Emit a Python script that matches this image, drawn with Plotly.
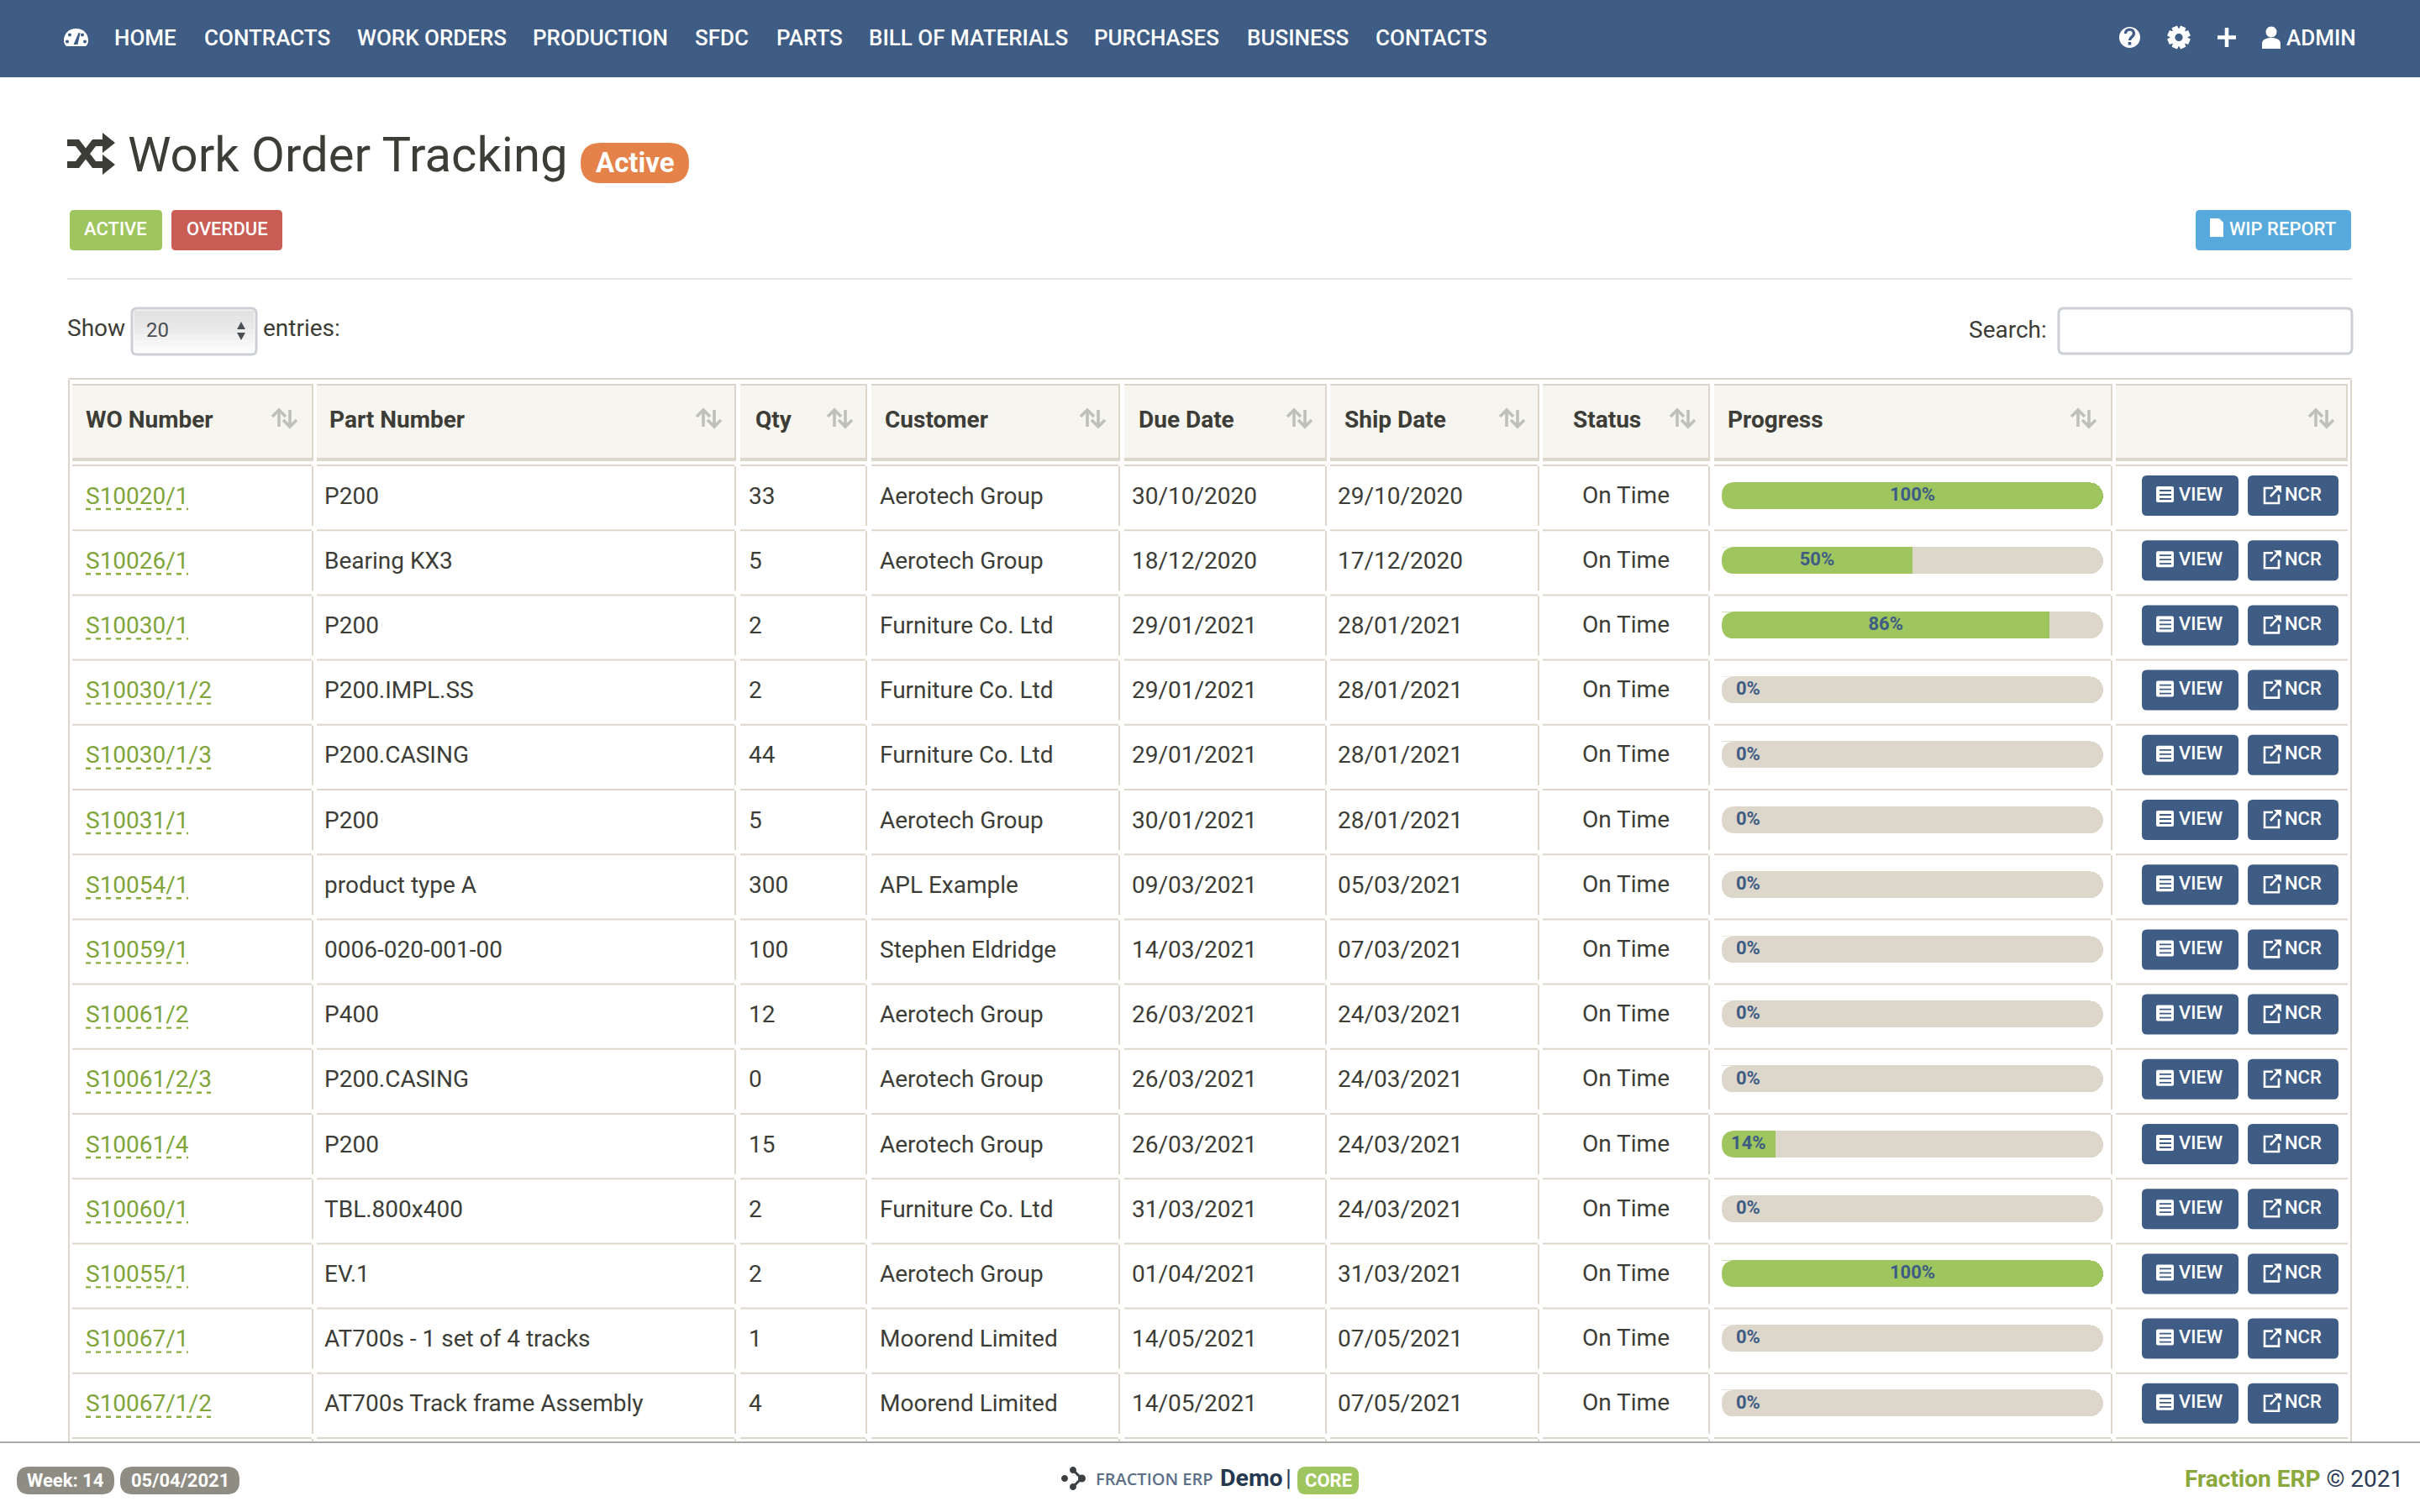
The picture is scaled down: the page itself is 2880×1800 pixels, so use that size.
import numpy as np
import plotly.graph_objects as go

# ---------- data ----------
wo_numbers = ["S10020/1","S10026/1","S10030/1","S10030/1/2","S10030/1/3","S10031/1","S10054/1","S10059/1",
              "S10061/2","S10061/2/3","S10061/4","S10060/1","S10055/1","S10067/1","S10067/1/2"]
part_numbers = ["P200","Bearing KX3","P200","P200.IMPL.SS","P200.CASING","P200","product type A","0006-020-001-00",
                "P400","P200.CASING","P200","TBL.800x400","EV.1","AT700s - 1 set of 4 tracks","AT700s Track frame Assembly"]
quantities = [33,5,2,2,44,5,300,100,12,0,15,2,2,1,4]
customers = ["Aerotech Group","Aerotech Group","Furniture Co. Ltd","Furniture Co. Ltd","Furniture Co. Ltd","Aerotech Group",
             "APL Example","Stephen Eldridge","Aerotech Group","Aerotech Group","Aerotech Group","Furniture Co. Ltd",
             "Aerotech Group","Moorend Limited","Moorend Limited"]
due_dates = ["30/10/2020","18/12/2020","29/01/2021","29/01/2021","29/01/2021","30/01/2021","09/03/2021","14/03/2021",
             "26/03/2021","26/03/2021","26/03/2021","31/03/2021","01/04/2021","14/05/2021","14/05/2021"]
ship_dates = ["29/10/2020","17/12/2020","28/01/2021","28/01/2021","28/01/2021","28/01/2021","05/03/2021","07/03/2021",
              "24/03/2021","24/03/2021","24/03/2021","24/03/2021","31/03/2021","07/05/2021","07/05/2021"]
statuses = ["On Time"]*15
progress = [100,50,86,0,0,0,0,0,0,0,14,0,100,0,0]
headers = ["WO Number","Part Number","Qty","Customer","Due Date","Ship Date","Status","Progress",""]
nav_labels = ["HOME","CONTRACTS","WORK ORDERS","PRODUCTION","SFDC","PARTS","BILL OF MATERIALS","PURCHASES","BUSINESS","CONTACTS"]

# ---------- layout constants ----------
W, H = 2880, 1800
NAVY, GREEN, BEIGE, INK = "#3e5c84", "#9fc55e", "#ddd6ca", "#3d3d38"
LINK = "#7fa53a"
FONT = "Roboto"
ROW0, PITCH = 590.0, 77.2
BAR_L, BAR_R, BAR_H = 2049, 2503, 32
COLS = [(86,373),(377,876),(881,1032),(1037,1333),(1338,1579),(1583,1832),(1836,2035),(2040,2514),(2518,2794)]
HEAD_X = [101,391,898,1052,1354,1599,1871,2055]
SORT_R = [353,858,1014,1315,1561,1814,2017,2494,2777]
NAV_X = [136,243,425,634,827,924,1034,1302,1484,1637]
row_y = lambda i: ROW0 + PITCH*i
idx = list(range(len(wo_numbers)))

shapes, annos = [], []

def rr(x0,y0,x1,y1,r):
    return (f"M{x0+r},{y0} L{x1-r},{y0} Q{x1},{y0} {x1},{y0+r} L{x1},{y1-r} Q{x1},{y1} {x1-r},{y1} "
            f"L{x0+r},{y1} Q{x0},{y1} {x0},{y1-r} L{x0},{y0+r} Q{x0},{y0} {x0+r},{y0} Z")

def circ(cx,cy,r):
    k = 0.5523*r
    return (f"M{cx-r},{cy} C{cx-r},{cy-k} {cx-k},{cy-r} {cx},{cy-r} C{cx+k},{cy-r} {cx+r},{cy-k} {cx+r},{cy} "
            f"C{cx+r},{cy+k} {cx+k},{cy+r} {cx},{cy+r} C{cx-k},{cy+r} {cx-r},{cy+k} {cx-r},{cy} Z")

def box(x0,y0,x1,y1):
    return f"M{x0},{y0} L{x1},{y0} L{x1},{y1} L{x0},{y1} Z "

def add(path, fill=None, line=None, width=0, dash=None):
    ln = dict(width=width, color=line or "rgba(0,0,0,0)")
    if dash: ln["dash"] = dash
    shapes.append(dict(type="path", path=path, xref="x2", yref="y2", layer="below",
                       fillcolor=fill or "rgba(0,0,0,0)", line=ln))

def txt(x,y,s,size,color=INK,weight=400,anchor="left",family=FONT):
    annos.append(dict(x=x,y=y,xref="x2",yref="y2",text=s,showarrow=False,xanchor=anchor,yanchor="middle",
                      borderpad=0,font=dict(family=family,size=size,color=color,weight=weight)))

# ---------- page chrome ----------
add(box(0,0,W,92), fill=NAVY)
# gauge
add("M79,55 C76,52 76,50 76,48 C76,40 82,34 90.5,34 C99,34 105,40 105,48 C105,50 105,52 102,55 Z", fill="white")
add(circ(83,41.5,2)+circ(98,41.5,2)+circ(80,49.5,2)+circ(101,49.5,2)+"M87.5,53 L93.5,39 L95.5,39.5 L92.5,53 Z", fill=NAVY)
# question
add(circ(2534.5,44.5,12.5), fill="white")
add("M2529.5,40 C2529.5,33.5 2539.5,33.5 2539.5,40 C2539.5,44 2534.5,44 2534.5,48", line=NAVY, width=3.4)
add(box(2532.7,50,2536.3,53.6), fill=NAVY)
# gear
gear_a = np.linspace(0,2*np.pi,8,endpoint=False)+np.pi/8
gear_p = ""
for a in gear_a:
    for da,r in [(-.30,9.5),(-.20,12.8),(.20,12.8),(.30,9.5)]:
        gear_p += ("L" if gear_p else "M")+f"{2593+r*np.cos(a+da):.1f},{44.5+r*np.sin(a+da):.1f} "
add(gear_p+"Z", fill="white", line="white", width=2)
add(circ(2593,44.5,4.6), fill=NAVY)
# plus
add("M2650,33 L2650,56 M2639,44.5 L2661,44.5", line="white", width=4.5)
# user
add(circ(2703,38,6.5), fill="white")
add("M2692,58 L2692,52 C2692,47 2697,45 2703,45 C2709,45 2714,47 2714,52 L2714,58 Z", fill="white")
txt(2720,44.5,"ADMIN",26,"white",500)

# shuffle icon
add("M80,170 L92,170 L112,196 L124,196 M80,196 L92,196 L112,170 L124,170", line=INK, width=8)
add("M122,158 L137,170 L122,182 Z M122,184 L137,196 L122,208 Z", fill=INK)
txt(151,184,"Work Order Tracking",58)
add(rr(691,170,820,218,24), fill="#e5824a")
txt(755.5,193,"Active",33,"white",700,"center")

add(rr(83,250,193,298,5), fill=GREEN)
txt(137,272.5,"ACTIVE",22,"white",500,"center")
add(rr(204,250,336,298,5), fill="#c95c55")
txt(270,272.5,"OVERDUE",22,"white",500,"center")
add(rr(2613,250,2798,298,5), fill="#58a9dc")
add("M2630,260 L2641,260 L2646,265 L2646,282 L2630,282 Z", fill="white")
txt(2652,272.5,"WIP REPORT",22,"white",500)
add(box(80,331,2799,333), fill="#e6e6e6")

txt(79,390,"Show",28)
add(rr(157,367,305,422,6), fill="white", line="#ccd0d5", width=3)
for k, c in enumerate(["#e2e2e2","#e5e5e5","#e8e8e8","#ececec","#f1f1f1","#f6f6f6","#fbfbfb"]):
    add(box(159.5,369.5+7.2*k,302.5,376.7+7.2*k), fill=c)
txt(173,393,"20",24,"#4a4f55")
add("M282,392 L287,383 L292,392 Z M282,396 L287,405 L292,396 Z", fill="#4a4f55")
txt(312,390,"entries:",28)
txt(2437,392,"Search:",28,INK,400,"right")
add(rr(2450,367,2799,421,6), fill="white", line="#ccd0d5", width=3)

# ---------- table grid ----------
LINE = BEIGE
add(box(81,451,83,1717)+box(2797,451,2799,1717)+box(81,450,2799,452), fill=LINE)
grid = ""
head_bg = ""
for x0,x1 in COLS:
    head_bg += box(x0,459,x1,545)
    grid += box(x0,457,x1,459)+box(x0,545,x1,549)
    grid += box(x1-2,459,x1,545)
    for i in range(len(idx)+1):
        top = row_y(i)-37
        grid += box(x0,top,x1,top+2)
        if i < len(idx) and x1 < 2790:
            grid += box(x1-2,top,x1,top+73)
        elif i == len(idx) and x1 < 2790:
            grid += box(x1-2,top,x1,1717)
add(head_bg, fill="#f7f5f0")
add(grid, fill=LINE)
for r in SORT_R:
    add(f"M{r-21},508 L{r-21},489 M{r-29},496 L{r-21},488 L{r-13},496 "
        f"M{r-8},488 L{r-8},507 M{r-16},500 L{r-8},508 L{r},500", line="#c0c0bb", width=3.6)
for x,h in zip(HEAD_X,headers):
    txt(x,499.5,h,28,INK,700)

# footer
add(box(0,1716,W,1718), fill="#a9a9a9")
add(rr(20,1746,136,1779,15), fill="#8f8c84")
txt(78,1762,"Week: 14",22,"white",700,"center")
add(rr(143,1746,285,1779,15), fill="#8f8c84")
txt(214,1762,"05/04/2021",22,"white",700,"center")
add("M1277,1750 L1287,1760 L1277,1770", line="#3d4043", width=3)
add(circ(1267,1760,4)+circ(1277,1750,4)+circ(1287.5,1760,4.5)+circ(1277,1770,4), fill="#3d4043")
txt(1303,1760,"FRACTION ERP",20,"#5c6f87",600,"left","Open Sans")
txt(1451,1759,"Demo",28.5,"#26384f",700)
txt(1533,1759,"|",28,"#2b3a55",400,"center")
add(rr(1544,1746,1617,1779,10), fill=GREEN)
txt(1580.5,1762,"CORE",22,"white",700,"center")
annos.append(dict(x=2861,y=1760,xref="x2",yref="y2",showarrow=False,xanchor="right",yanchor="middle",borderpad=0,
    text="<span style='color:#8aa83c;font-weight:700'>Fraction ERP</span> © 2021",
    font=dict(family=FONT,size=28,color="#2b3a55")))

# ---------- row decorations ----------
for i,w in enumerate(wo_numbers):
    y = row_y(i)
    wid = {8:122,10:149}[len(w)]
    add(f"M102,{y+16} L{102+wid},{y+16}", line="#8aad3f", width=2.4, dash="6px,6px")
    add(rr(2549,y-24,2664,y+24,6)+rr(2675,y-24,2783,y+24,6), fill=NAVY)
    add(rr(2566,y-11,2587,y+8,2), fill="white")
    add(f"M2570,{y-6} L2584,{y-6} M2570,{y-1} L2584,{y-1} M2570,{y+4} L2584,{y+4}", line=NAVY, width=1.8)
    add(f"M2705,{y-9} L2695,{y-9} L2695,{y+9} L2712,{y+9} L2712,{y-1} M2702,{y+1} L2713,{y-11}", line="white", width=2.6)
    add(f"M2706,{y-12} L2715,{y-12} L2715,{y-3} Z", fill="white")
    # the progress bar's left end is rounded as well: white corner caps over the stacked bar's base
    t, b, R = y-BAR_H/2, y+BAR_H/2, 16
    shapes.append(dict(type="path", xref="x2", yref="y2", layer="above", fillcolor="white", line=dict(width=0),
        path=f"M{BAR_L},{t} L{BAR_L+R},{t} Q{BAR_L},{t} {BAR_L},{t+R} Z M{BAR_L},{b} L{BAR_L+R},{b} Q{BAR_L},{b} {BAR_L},{b-R} Z"))

# ---------- traces ----------
fig = go.Figure()
remaining = [100-p for p in progress]
fig.add_bar(x=progress, y=idx, orientation="h", marker=dict(color=GREEN, line_width=0), width=BAR_H/PITCH,
            xaxis="x", yaxis="y", hoverinfo="skip", showlegend=False)
fig.add_bar(x=remaining, y=idx, orientation="h", marker=dict(color=BEIGE, line_width=0), width=BAR_H/PITCH,
            xaxis="x", yaxis="y", hoverinfo="skip", showlegend=False)
fig.add_scatter(x=[max(p/2,6.9) for p in progress], y=[i+0.005 for i in idx], mode="text", text=[f"{p}%" for p in progress],
                textposition="middle center", textfont=dict(family=FONT,size=22,color=NAVY,weight=700),
                xaxis="x", yaxis="y", hoverinfo="skip", showlegend=False)

DY = 2.5
def col_text(x, vals, color=INK, pos="middle right", size=28, weight=400, dy=DY):
    fig.add_scatter(x=[x]*len(vals), y=[row_y(i)+dy for i in idx], mode="text", text=[str(v) for v in vals], textposition=pos,
                    textfont=dict(family=FONT,size=size,color=color,weight=weight),
                    xaxis="x2", yaxis="y2", hoverinfo="skip", showlegend=False, cliponaxis=False)

col_text(102, wo_numbers, LINK)
col_text(386, part_numbers)
col_text(891, quantities)
col_text(1047, customers)
col_text(1347, due_dates)
col_text(1592, ship_dates)
col_text(1935, statuses, pos="middle center", dy=1.5)
col_text(2593, ["VIEW"]*15, "white", size=22, weight=500, dy=0)
col_text(2719, ["NCR"]*15, "white", size=22, weight=500, dy=0)

fig.add_scatter(x=NAV_X, y=[47]*len(nav_labels), mode="text", text=nav_labels, textposition="middle right",
                textfont=dict(family=FONT,size=26,color="white",weight=500), xaxis="x2", yaxis="y2",
                hoverinfo="skip", showlegend=False, cliponaxis=False)

hidden = dict(visible=False, fixedrange=True)
top = ROW0-PITCH/2
bottom = top+PITCH*len(idx)
fig.update_layout(
    width=W, height=H, margin=dict(l=0,r=0,t=0,b=0), autosize=False,
    paper_bgcolor="white", plot_bgcolor="rgba(0,0,0,0)", barmode="stack", barcornerradius=16, bargap=0,
    showlegend=False, shapes=shapes, annotations=annos,
    font=dict(family=FONT,color=INK),
    xaxis=dict(domain=[BAR_L/W,BAR_R/W], range=[0,100], anchor="y", **hidden),
    yaxis=dict(domain=[1-bottom/H,1-top/H], range=[len(idx)-0.5,-0.5], anchor="x", **hidden),
    xaxis2=dict(domain=[0,1], range=[0,W], anchor="y2", **hidden),
    yaxis2=dict(domain=[0,1], range=[H,0], anchor="x2", **hidden),
)
fig.write_html("out.html", config=dict(displayModeBar=False),
               post_script="document.body.style.margin='0';document.body.style.overflow='hidden';")
